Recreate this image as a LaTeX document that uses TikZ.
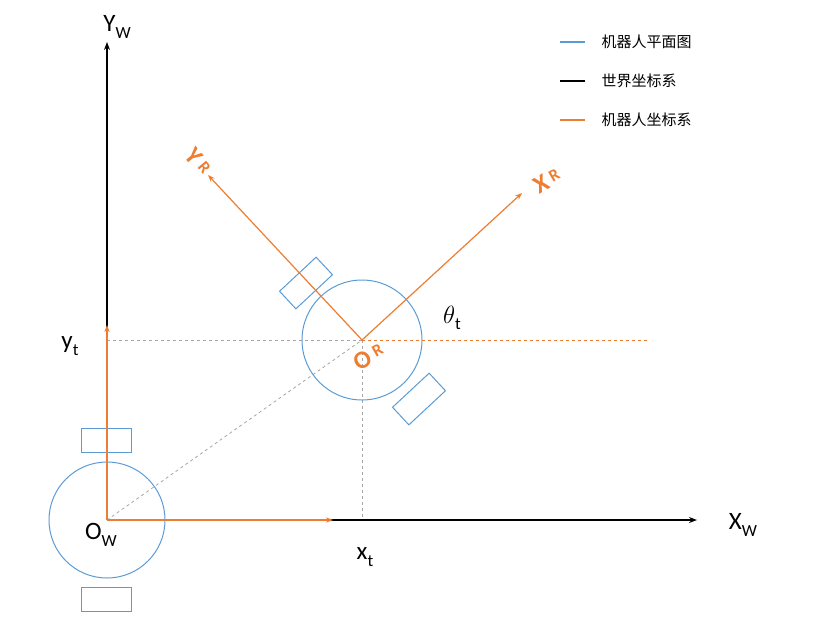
\documentclass[tikz,border=0pt]{standalone}
\usepackage{fontspec}
\usetikzlibrary{arrows.meta}
\setmainfont{Carlito}
\newfontfamily\cjk{Noto Sans CJK SC}
\definecolor{rb}{RGB}{91,155,213}
\definecolor{ro}{RGB}{237,125,49}
\newcommand{\sbs}[1]{\raisebox{-0.25em}{\fontsize{17}{18}\selectfont #1}}
\newcommand{\sps}[1]{\raisebox{0.15em}{\fontsize{17}{18}\selectfont #1}}
\begin{document}
\begin{tikzpicture}[x=1pt,y=-1pt,
  bl/.style={draw=rb,line width=1pt},
  orr/.style={draw=ro,line width=1.2pt,-{Stealth[length=7pt]}},
  ax/.style={draw=black,line width=1.2pt,-{Stealth[length=8pt]}},
  gd/.style={draw=gray!70,dashed,line width=0.8pt},
  lab/.style={font=\fontsize{25}{27}\selectfont,inner sep=0pt},
  rl/.style={font=\bfseries\fontsize{25}{27}\selectfont,inner sep=0pt,text=ro},
  leg/.style={font=\cjk\fontsize{15}{17}\selectfont,anchor=west}]
\useasboundingbox (0,0) rectangle (826,627);
\coordinate (OW) at (107,520);
\coordinate (OR) at (362,340);
\coordinate (YWe) at (107,42);
\coordinate (XWe) at (697,520);
\coordinate (xte) at (333,520);
\coordinate (yte) at (107,325);
\coordinate (XRe) at (522,193);
\coordinate (YRe) at (208,175);
\coordinate (yt) at (107,340);
\coordinate (xt) at (362,520);
\coordinate (th) at (650,340);
% gray dashed
\draw[gd] (yt) -- (OR);
\draw[gd] (OR) -- (xt);
\draw[gd] (OW) -- (OR);
% blue robots
\draw[bl] (OW) circle (58);
\draw[bl] (81,428) rectangle (131,452);
\draw[bl] (81,587) rectangle (131,611);
\draw[bl] (OR) circle (60);
\draw[bl,rotate around={43:(306,283)}] (281,271) rectangle (331,295);
\draw[bl,rotate around={43:(419,399)}] (394,387) rectangle (444,411);
% axes
\draw[ax] (OW) -- (YWe);
\draw[ax] (OW) -- (XWe);
\draw[orr] (OW) -- (xte);
\draw[orr] (OW) -- (yte);
\draw[orr] (OR) -- (XRe);
\draw[orr] (OR) -- (YRe);
\draw[draw=ro,dashed,line width=0.8pt] (OR) -- (th);
% labels
\node[lab] (lYW) at (117,27) {Y\sbs{W}};
\node[lab] (lXW) at (743,525) {X\sbs{W}};
\node[lab] (lOW) at (101,535) {O\sbs{W}};
\node[lab] (lxt) at (365,557) {x\sbs{t}};
\node[lab] (lyt) at (70,346) {y\sbs{t}};
\node[lab] (lth) at (452,318) {$\theta$\sbs{t}};
\node[rl,rotate=30] (lOR) at (369,357) {O\,\sps{R}};
\node[rl,rotate=-50] (lYR) at (198,162) {Y\,\sps{R}};
\node[rl,rotate=30] (lXR) at (547,181) {X\,\sps{R}};
% legend
\draw[draw=rb,line width=1.2pt] (560,42) -- (585,42);
\draw[draw=black,line width=1.2pt] (560,81) -- (585,81);
\draw[draw=ro,line width=1.2pt] (560,120) -- (585,120);
\node[leg] (g1) at (598,42) {机器人平面图};
\node[leg] (g2) at (598,81) {世界坐标系};
\node[leg] (g3) at (598,120) {机器人坐标系};
\end{tikzpicture}
\end{document}
